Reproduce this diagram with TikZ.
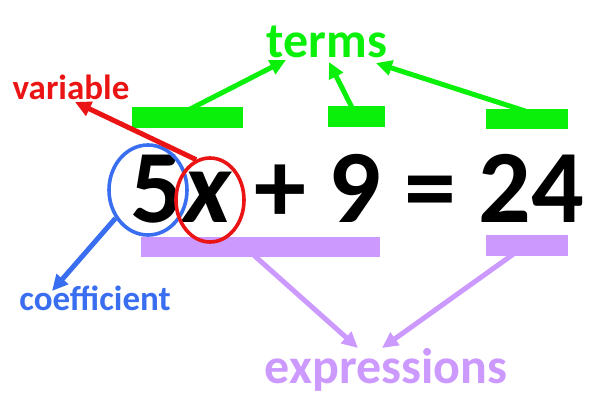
\documentclass[tikz,border=0pt]{standalone}
\usepackage{fontspec}
\setmainfont{Carlito}
\usetikzlibrary{arrows.meta,shapes.geometric,calc}
\definecolor{tgreen}{RGB}{10,240,10}
\definecolor{tred}{RGB}{235,20,20}
\definecolor{tblue}{RGB}{58,110,240}
\definecolor{tpurple}{RGB}{204,153,255}
\tikzset{
  bar/.style={fill=#1, draw=none, inner sep=0pt, anchor=north west},
  lbl/.style={text=#1, font=\bfseries, anchor=base, inner sep=0pt},
  eq/.style={font=\fontsize{104}{104}\selectfont\bfseries, anchor=base, inner sep=0pt},
  arr/.style={draw=#1, line width=5pt, -{Triangle[length=16pt,width=15pt]}},
  ring/.style={draw=#1, line width=3.6pt, ellipse, inner sep=0pt}
}
\begin{document}
\begin{tikzpicture}[x=1pt,y=-1pt]
\useasboundingbox (0,0) rectangle (607,402);
% equation
\node[eq] (n5) at (156.5,222) {5};
\node[eq] (nx) at (207,222) {\itshape x};
\node[eq] (nplus) at (280.5,222) {+};
\node[eq] (n9) at (355,222) {9};
\node[eq] (neq) at (430.5,222) {=};
\node[eq] (n24) at (531.5,222) {24};
% labels
\node[lbl=tgreen, font=\fontsize{50}{50}\selectfont\bfseries] (terms) at (327,57) {terms};
\node[lbl=tred, font=\fontsize{35}{35}\selectfont\bfseries] (var) at (71,99) {variable};
\node[lbl=tblue, font=\fontsize{35}{35}\selectfont\bfseries] (coef) at (95,310) {coefficient};
\node[lbl=tpurple, font=\fontsize{50}{50}\selectfont\bfseries] (expr) at (386,383) {expressions};
% bars
\node[bar=tgreen, minimum width=111pt, minimum height=21pt] (g1) at (132,107) {};
\node[bar=tgreen, minimum width=57pt, minimum height=21pt] (g2) at (328,106) {};
\node[bar=tgreen, minimum width=82pt, minimum height=20pt] (g3) at (486,109) {};
\node[bar=tpurple, minimum width=239pt, minimum height=20pt] (p1) at (141,237) {};
\node[bar=tpurple, minimum width=82pt, minimum height=21pt] (p2) at (486,235) {};
% ellipses
\node[ring=tblue, minimum width=78pt, minimum height=90pt] (cb) at (148,190) {};
\node[ring=tred, minimum width=68pt, minimum height=84pt] (cr) at (210,200) {};
% arrow tips
\coordinate (tg1) at (286,60);
\coordinate (tg2) at (329,62);
\coordinate (tg3) at (376,63);
\coordinate (tp1) at (358,348);
\coordinate (tp2) at (382,348);
\coordinate (tb) at (52,291);
\coordinate (tr) at (75,102);
% arrows
\draw[arr=tgreen] ([xshift=2.5pt,yshift=-2pt]g1.north) -- (tg1);
\draw[arr=tgreen] ([xshift=-4.5pt,yshift=-2pt]g2.north) -- (tg2);
\draw[arr=tgreen] ([xshift=-2pt,yshift=-2pt]g3.north) -- (tg3);
\draw[arr=tpurple] ([xshift=-10pt,yshift=5pt]p1.south) -- (tp1);
\draw[arr=tpurple] ([xshift=-10pt,yshift=5pt]p2.south) -- (tp2);
\draw[arr=tblue] (cb.221) -- (tb);
\draw[arr=tred] (cr.109) -- (tr);
\end{tikzpicture}
\end{document}
